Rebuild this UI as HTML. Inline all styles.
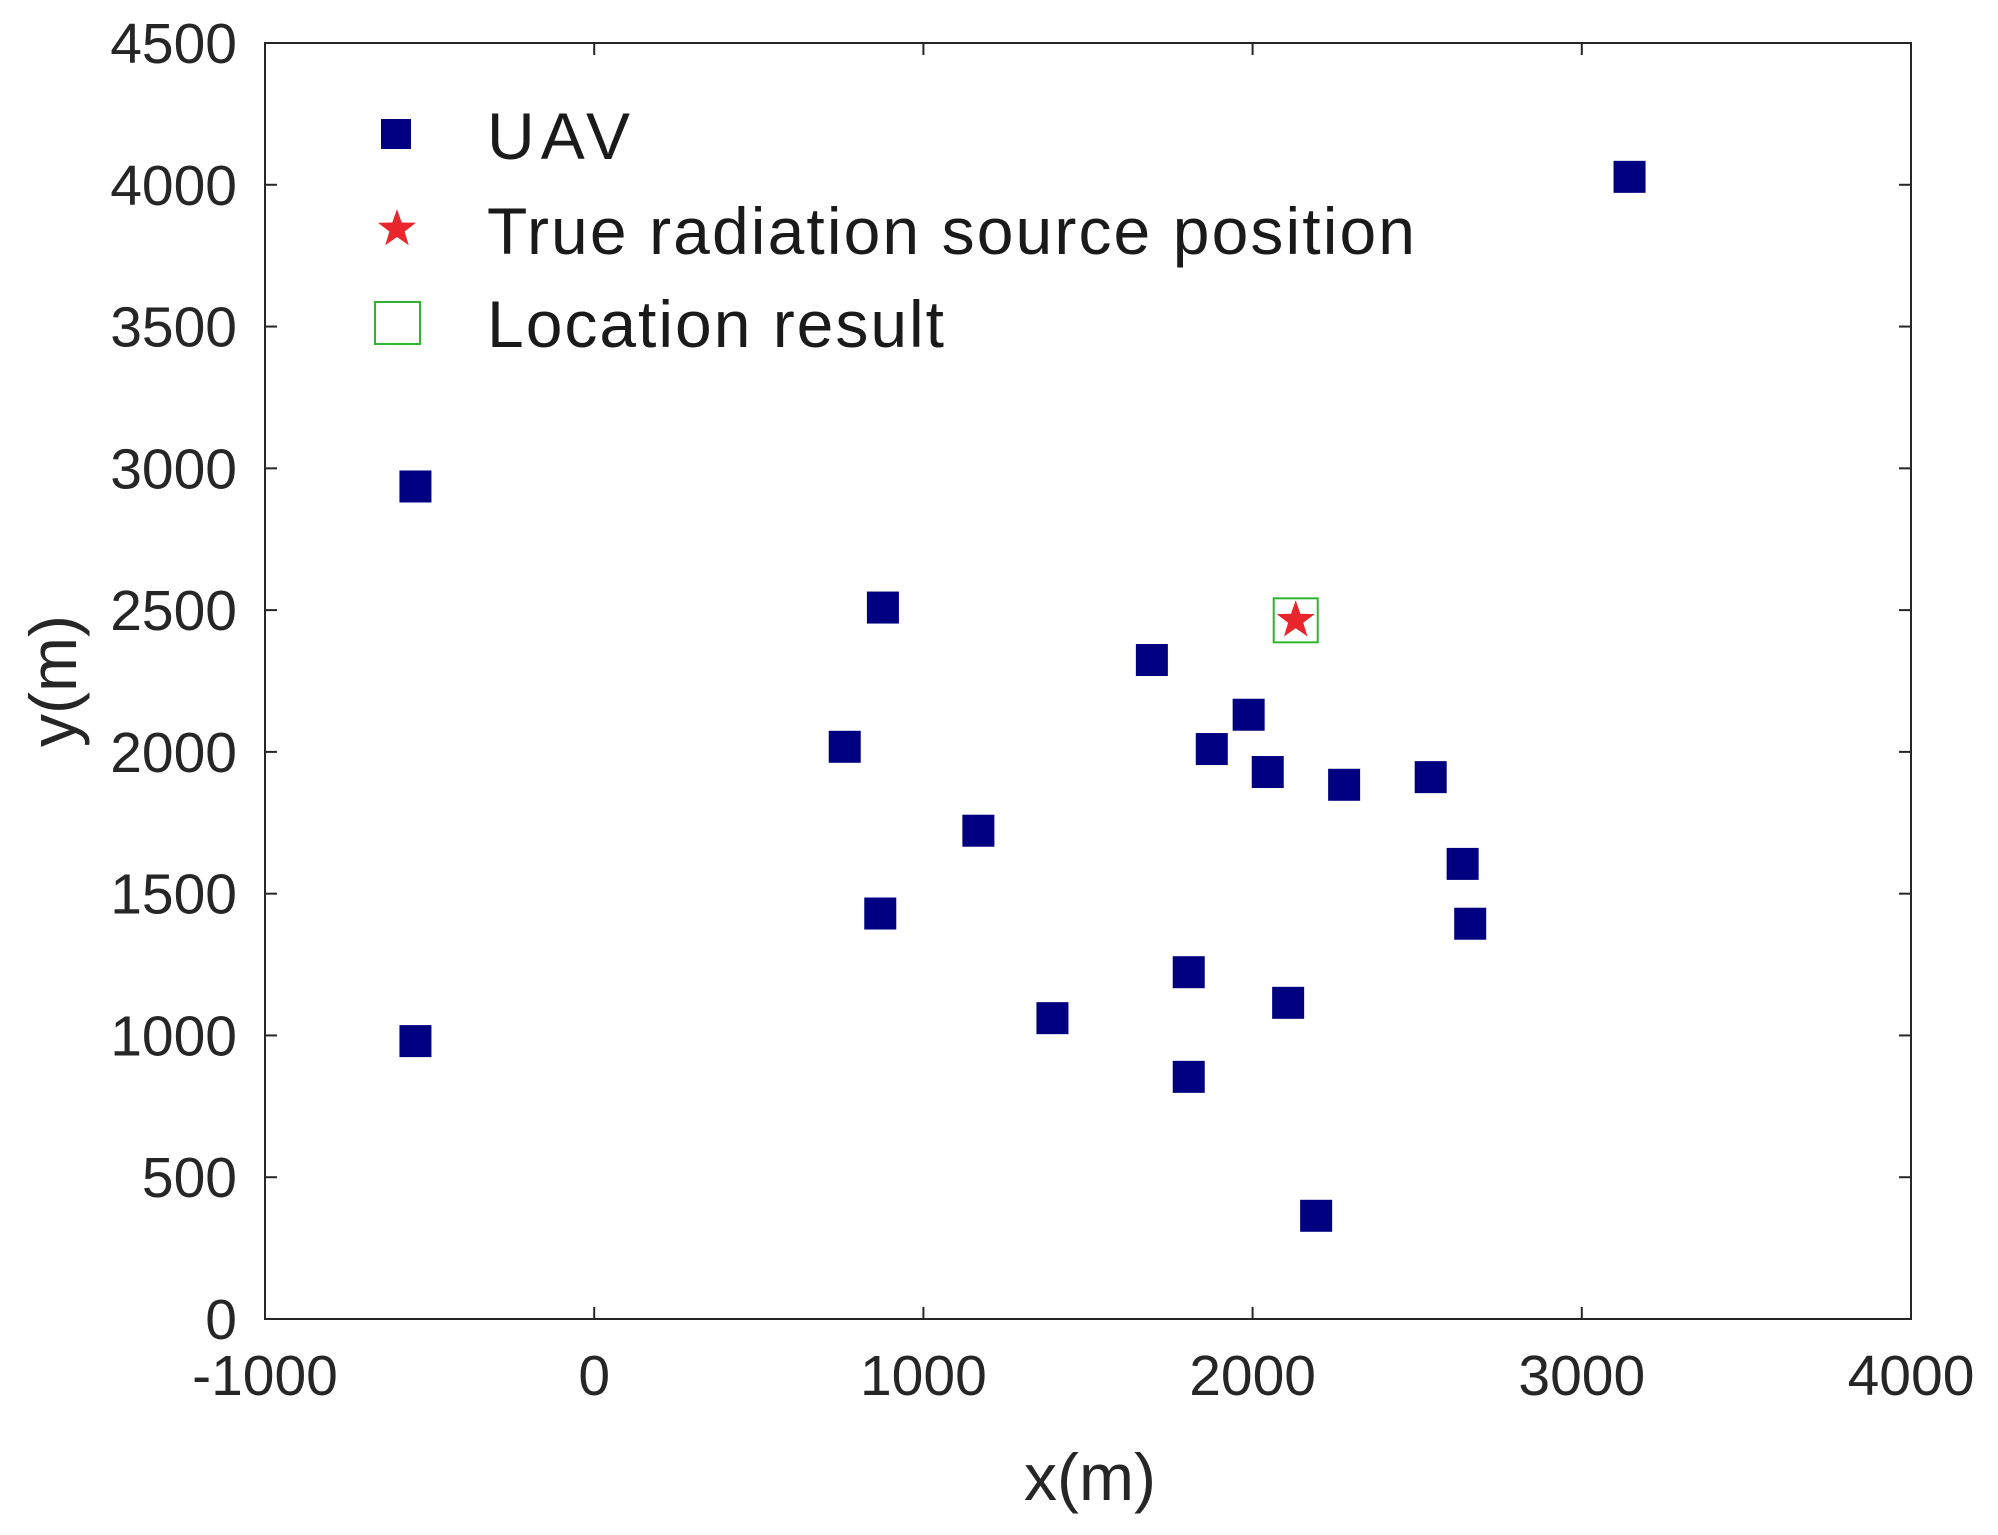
<!DOCTYPE html>
<html><head><meta charset="utf-8"><style>
html,body{margin:0;padding:0;background:#fff;}
svg{display:block;font-family:"Liberation Sans",Arial,sans-serif;}
</style></head><body>
<svg id="chart" width="1998" height="1535">
<rect x="265" y="43" width="1646" height="1276" fill="#fff" stroke="#262626" stroke-width="2"/>
<g id="axes"></g>
<g id="marks"></g>
<text x="1090" y="1500" font-size="66" text-anchor="middle" fill="#262626">x(m)</text>
<text transform="translate(76,681) rotate(-90)" font-size="66" text-anchor="middle" fill="#262626">y(m)</text>
<g>
<rect x="381" y="119" width="30" height="30" fill="#000080"/>
<text x="487" y="159" font-size="66" textLength="143" fill="#1a1a1a">UAV</text>
<polygon id="legstar" fill="#e8262b"/>
<text x="487" y="254" font-size="66" textLength="928" fill="#1a1a1a">True radiation source position</text>
<rect x="375" y="302" width="45" height="42" fill="none" stroke="#2db52d" stroke-width="2"/>
<text x="487" y="347" font-size="66" textLength="457" fill="#1a1a1a">Location result</text>
</g>
</svg>
<script>
const uavX=[-543,3145,877,761,1694,1988,1876,2046,2278,2541,2638,2661,1167,869,1806,2108,1392,1806,2193,-543];
const uavY=[2936,4028,2509,2018,2324,2131,2010,1929,1884,1911,1605,1394,1722,1430,1223,1115,1061,854,364,980];
const trueX=[2131], trueY=[2464];
const resX=[2131], resY=[2464];
const xTicks=[-1000,0,1000,2000,3000,4000];
const yTicks=[0,500,1000,1500,2000,2500,3000,3500,4000,4500];
const L=265,R=1911,T=43,B=1319;
const sx=v=>L+(v+1000)/5000*(R-L);
const sy=v=>B-v/4500*(B-T);
const NS='http://www.w3.org/2000/svg';
function mk(tag,attrs,parent){const e=document.createElementNS(NS,tag);for(const k in attrs)e.setAttribute(k,attrs[k]);parent.appendChild(e);return e;}
const axes=document.getElementById('axes'), marks=document.getElementById('marks');
xTicks.forEach(t=>{const x=sx(t);
 let l=mk('line',{x1:x,x2:x,y1:B,y2:B-12,stroke:'#262626','stroke-width':2},axes);
 
 
 l=mk('line',{x1:x,x2:x,y1:T,y2:T+12,stroke:'#262626','stroke-width':2},axes);
 
 
 const tx=mk('text',{x:x,y:B+76,'font-size':57,'text-anchor':'middle',fill:'#262626'},axes);tx.textContent=t;
 
 
});
yTicks.forEach(t=>{const y=sy(t);
 let l=mk('line',{x1:L,x2:L+12,y1:y,y2:y,stroke:'#262626','stroke-width':2},axes);
 
 
 l=mk('line',{x1:R,x2:R-12,y1:y,y2:y,stroke:'#262626','stroke-width':2},axes);
 
 
 const tx=mk('text',{x:L-28,y:y+20,'font-size':57,'text-anchor':'end',fill:'#262626'},axes);tx.textContent=t;
 
 
});
uavX.forEach((v,i)=>{const s=32;
 const r=mk('rect',{x:sx(v)-s/2,y:sy(uavY[i])-s/2,width:s,height:s,fill:'#000080'},marks);
 
 
});
resX.forEach((v,i)=>{
 const r=mk('rect',{x:sx(v)-22,y:sy(resY[i])-22,width:44,height:44,fill:'none',stroke:'#2db52d','stroke-width':2},marks);
 
 
});
function starPts(cx,cy,ro,ri){let p=[];for(let k=0;k<10;k++){const a=-Math.PI/2+k*Math.PI/5;const r=k%2?ri:ro;p.push((cx+r*Math.cos(a)).toFixed(1)+','+(cy+r*Math.sin(a)).toFixed(1));}return p.join(' ');}
trueX.forEach((v,i)=>{
 const s=mk('polygon',{points:starPts(sx(v),sy(trueY[i]),20,8),fill:'#e8262b'},marks);
 
 
});
document.getElementById('legstar').setAttribute('points',starPts(397,229,20,8));
</script>
</body></html>
